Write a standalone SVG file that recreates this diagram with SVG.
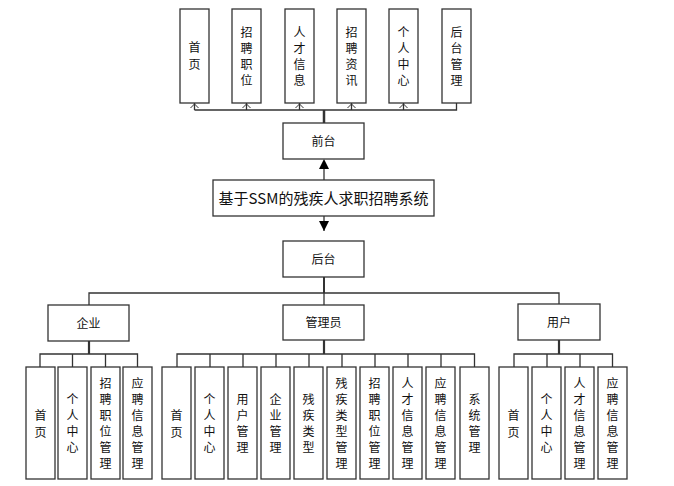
<svg xmlns="http://www.w3.org/2000/svg" width="674" height="486" viewBox="0 0 674 486">
<style>
rect{fill:#fff;stroke:#333;stroke-width:1.3}
text{font-family:"Noto Sans CJK SC","Liberation Sans",sans-serif;font-size:12px;fill:#111;text-anchor:middle}
.c path,.c line{stroke:#333;stroke-width:1.3;fill:none}
.t{font-size:15px}
</style>
<defs>
<marker id="f" markerWidth="10" markerHeight="10" refX="5" refY="10" orient="0" markerUnits="userSpaceOnUse"><path d="M0,10 L5,0 L10,10Z" fill="#000"/></marker>
<marker id="d" markerWidth="10" markerHeight="10" refX="5" refY="10" orient="0" markerUnits="userSpaceOnUse"><path d="M0,0 L10,0 L5,10Z" fill="#000"/></marker>
</defs>
<g class="c" id="connectors">
<path d="M194.5,110 H456.5 V103"/>
<line x1="324" y1="110" x2="324" y2="123" style="stroke-width:2.5"/>
<path d="M194.5,110 V103 M246.5,110 V103 M299.5,110 V103 M351.5,110 V103 M403.5,110 V103"/>
<path d="M190.5,108 L194.5,104 L198.5,108 M242.5,108 L246.5,104 L250.5,108 M295.5,108 L299.5,104 L303.5,108 M347.5,108 L351.5,104 L355.5,108 M399.5,108 L403.5,104 L407.5,108" style="stroke-width:1"/>
<path d="M324,180 V169" marker-end="url(#f)"/>
<path d="M324,216 V231" marker-end="url(#d)"/>
<path d="M324,277 V293" style="stroke-width:2"/>
<path d="M89,305 V293 H559 V304"/>
<path d="M324,293 V305"/>
<path d="M89,341 V354" style="stroke-width:2.2"/>
<path d="M40,367 V354 H137.5 V367 M72.5,354 V367 M105.5,354 V367"/>
<path d="M324,340 V354" style="stroke-width:2.2"/>
<path d="M177,367 V354 H474.5 V367 M210,354 V367 M243,354 V367 M276,354 V367 M309,354 V367 M342,354 V367 M375,354 V367 M408,354 V367 M441,354 V367"/>
<path d="M559,340 V354" style="stroke-width:2.2"/>
<path d="M514,367 V354 H612.5 V367 M547,354 V367 M580,354 V367"/>
</g>
<g id="top1"><rect x="180" y="9" width="29" height="94"/><text x="194.5" y="52">首</text><text x="194.5" y="69">页</text></g>
<g id="top2"><rect x="232" y="9" width="29" height="94"/><text x="246.5" y="37">招</text><text x="246.5" y="53">聘</text><text x="246.5" y="69">职</text><text x="246.5" y="85">位</text></g>
<g id="top3"><rect x="285" y="9" width="29" height="94"/><text x="299.5" y="37">人</text><text x="299.5" y="53">才</text><text x="299.5" y="69">信</text><text x="299.5" y="85">息</text></g>
<g id="top4"><rect x="337" y="9" width="29" height="94"/><text x="351.5" y="37">招</text><text x="351.5" y="53">聘</text><text x="351.5" y="69">资</text><text x="351.5" y="85">讯</text></g>
<g id="top5"><rect x="389" y="9" width="29" height="94"/><text x="403.5" y="37">个</text><text x="403.5" y="53">人</text><text x="403.5" y="69">中</text><text x="403.5" y="85">心</text></g>
<g id="top6"><rect x="442" y="9" width="29" height="94"/><text x="456.5" y="37">后</text><text x="456.5" y="53">台</text><text x="456.5" y="69">管</text><text x="456.5" y="85">理</text></g>
<g id="qiantai"><rect x="283" y="123" width="81" height="36"/><text x="323.5" y="146">前台</text></g>
<g id="title"><rect x="213" y="180" width="221" height="36"/><text class="t" x="323.5" y="204">基于SSM的残疾人求职招聘系统</text></g>
<g id="houtai"><rect x="283" y="241" width="81" height="36"/><text x="323.5" y="264">后台</text></g>
<g id="qiye"><rect x="48" y="305" width="81" height="36"/><text x="88.5" y="328">企业</text></g>
<g id="admin"><rect x="283" y="305" width="81" height="35"/><text x="323.5" y="327">管理员</text></g>
<g id="yonghu"><rect x="518" y="304" width="82" height="36"/><text x="559" y="327">用户</text></g>
<g id="q1"><rect x="26" y="367" width="29" height="112"/><text x="40.5" y="420">首</text><text x="40.5" y="437">页</text></g>
<g id="q2"><rect x="58" y="367" width="29" height="112"/><text x="72.5" y="404">个</text><text x="72.5" y="420">人</text><text x="72.5" y="436">中</text><text x="72.5" y="452">心</text></g>
<g id="q3"><rect x="91" y="367" width="29" height="112"/><text x="105.5" y="388">招</text><text x="105.5" y="404">聘</text><text x="105.5" y="420">职</text><text x="105.5" y="436">位</text><text x="105.5" y="452">管</text><text x="105.5" y="468">理</text></g>
<g id="q4"><rect x="123" y="367" width="29" height="112"/><text x="137.5" y="388">应</text><text x="137.5" y="404">聘</text><text x="137.5" y="420">信</text><text x="137.5" y="436">息</text><text x="137.5" y="452">管</text><text x="137.5" y="468">理</text></g>
<g id="a1"><rect x="162" y="367" width="29" height="112"/><text x="176.5" y="420">首</text><text x="176.5" y="437">页</text></g>
<g id="a2"><rect x="195" y="367" width="29" height="112"/><text x="209.5" y="404">个</text><text x="209.5" y="420">人</text><text x="209.5" y="436">中</text><text x="209.5" y="452">心</text></g>
<g id="a3"><rect x="228" y="367" width="29" height="112"/><text x="242.5" y="404">用</text><text x="242.5" y="420">户</text><text x="242.5" y="436">管</text><text x="242.5" y="452">理</text></g>
<g id="a4"><rect x="261" y="367" width="29" height="112"/><text x="275.5" y="404">企</text><text x="275.5" y="420">业</text><text x="275.5" y="436">管</text><text x="275.5" y="452">理</text></g>
<g id="a5"><rect x="294" y="367" width="29" height="112"/><text x="308.5" y="404">残</text><text x="308.5" y="420">疾</text><text x="308.5" y="436">类</text><text x="308.5" y="452">型</text></g>
<g id="a6"><rect x="327" y="367" width="29" height="112"/><text x="341.5" y="388">残</text><text x="341.5" y="404">疾</text><text x="341.5" y="420">类</text><text x="341.5" y="436">型</text><text x="341.5" y="452">管</text><text x="341.5" y="468">理</text></g>
<g id="a7"><rect x="360" y="367" width="29" height="112"/><text x="374.5" y="388">招</text><text x="374.5" y="404">聘</text><text x="374.5" y="420">职</text><text x="374.5" y="436">位</text><text x="374.5" y="452">管</text><text x="374.5" y="468">理</text></g>
<g id="a8"><rect x="393" y="367" width="29" height="112"/><text x="407.5" y="388">人</text><text x="407.5" y="404">才</text><text x="407.5" y="420">信</text><text x="407.5" y="436">息</text><text x="407.5" y="452">管</text><text x="407.5" y="468">理</text></g>
<g id="a9"><rect x="426" y="367" width="29" height="112"/><text x="440.5" y="388">应</text><text x="440.5" y="404">聘</text><text x="440.5" y="420">信</text><text x="440.5" y="436">息</text><text x="440.5" y="452">管</text><text x="440.5" y="468">理</text></g>
<g id="a10"><rect x="460" y="367" width="29" height="112"/><text x="474.5" y="404">系</text><text x="474.5" y="420">统</text><text x="474.5" y="436">管</text><text x="474.5" y="452">理</text></g>
<g id="u1"><rect x="499" y="367" width="29" height="112"/><text x="513.5" y="420">首</text><text x="513.5" y="437">页</text></g>
<g id="u2"><rect x="532" y="367" width="29" height="112"/><text x="546.5" y="404">个</text><text x="546.5" y="420">人</text><text x="546.5" y="436">中</text><text x="546.5" y="452">心</text></g>
<g id="u3"><rect x="565" y="367" width="29" height="112"/><text x="579.5" y="388">人</text><text x="579.5" y="404">才</text><text x="579.5" y="420">信</text><text x="579.5" y="436">息</text><text x="579.5" y="452">管</text><text x="579.5" y="468">理</text></g>
<g id="u4"><rect x="598" y="367" width="29" height="112"/><text x="612.5" y="388">应</text><text x="612.5" y="404">聘</text><text x="612.5" y="420">信</text><text x="612.5" y="436">息</text><text x="612.5" y="452">管</text><text x="612.5" y="468">理</text></g>
</svg>
